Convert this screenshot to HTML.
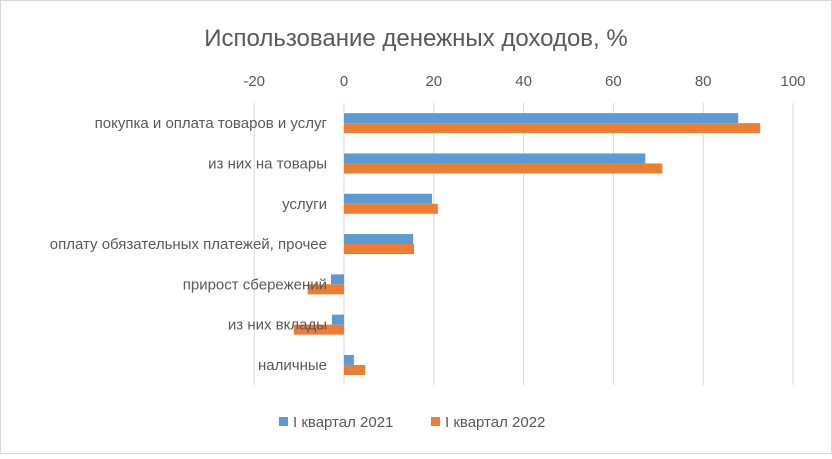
<!DOCTYPE html>
<html><head><meta charset="utf-8"><style>
body{margin:0;background:#fff;font-family:"Liberation Sans",sans-serif}
svg text{font-family:"Liberation Sans",sans-serif}
</style></head><body>
<svg width="832" height="454">
<rect x="0.5" y="0.5" width="831" height="453" fill="#fff" stroke="#d9d9d9"/>
<text x="416" y="46" text-anchor="middle" font-size="24" fill="#595959">Использование денежных доходов, %</text>
<g id="grid"></g><g id="bars"></g><g id="labels"></g>
<g>
<rect x="279" y="417" width="9" height="9" fill="#5b9bd5"/>
<text x="293" y="427" font-size="15" fill="#595959">I квартал 2021</text>
<rect x="431" y="417" width="9" height="9" fill="#ed7d31"/>
<text x="445" y="427" font-size="15" fill="#595959">I квартал 2022</text>
</g>
</svg>
<script>
const categories=["покупка и оплата товаров и услуг","из них на товары","услуги","оплату обязательных платежей, прочее","прирост сбережений","из них вклады","наличные"];
const series2021=[87.8,67.1,19.6,15.4,-2.9,-2.7,2.2];
const series2022=[92.7,70.9,20.9,15.6,-8.1,-11.2,4.7];
const ticks=[-20,0,20,40,60,80,100];
const NS="http://www.w3.org/2000/svg";
const x=v=>344+v*4.49;
const top0=103,band=40.3;
const y=i=>top0+i*band+band/2;
function mk(t,a,p){const e=document.createElementNS(NS,t);for(const k in a)e.setAttribute(k,a[k]);p.appendChild(e);return e;}
const g=document.getElementById('grid'),b=document.getElementById('bars'),l=document.getElementById('labels');
ticks.forEach(t=>{
 const ln=mk('line',{x1:x(t),x2:x(t),y1:top0,y2:385,stroke:'#d9d9d9','stroke-width':1},g);
 
 
 const tx=mk('text',{x:x(t),y:86,'text-anchor':'middle','font-size':15,fill:'#595959'},g);
 tx.textContent=t;
 
 
});
categories.forEach((c,i)=>{
 const cy=y(i);
 [[series2021[i],'#5b9bd5',cy-10],[series2022[i],'#ed7d31',cy]].forEach(([v,col,yy],k)=>{
  const r=mk('rect',{x:Math.min(x(0),x(v)),y:yy,width:Math.abs(x(v)-x(0)),height:10,fill:col},b);
  
  
 });
 const tx=mk('text',{x:327,y:cy+5,'text-anchor':'end','font-size':15,fill:'#595959'},l);
 tx.textContent=c;
 
 
});
</script>
</body></html>
